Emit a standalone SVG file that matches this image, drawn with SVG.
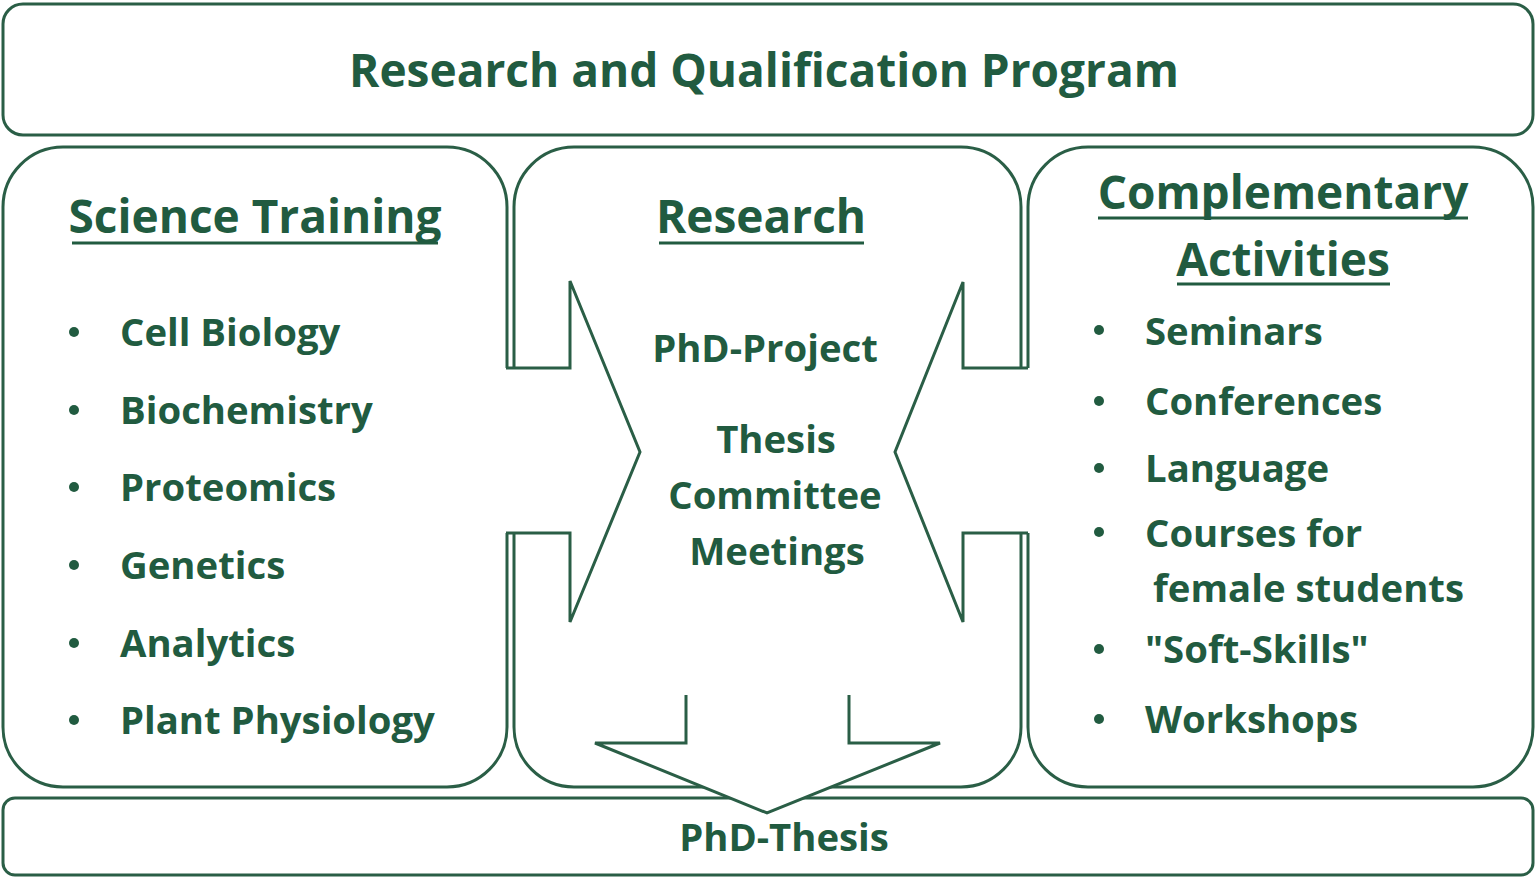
<svg xmlns="http://www.w3.org/2000/svg" width="1536" height="891" viewBox="0 0 1536 891">
<style>
.box{fill:#ffffff;stroke:#2a5e46;stroke-width:3}
.t{font-family:"Open Sans","Liberation Sans",sans-serif;font-weight:bold;fill:#215b40}
.title{font-size:46px;text-anchor:middle}
.head{font-size:46px}
.item{font-size:38.3px}
.mid{text-anchor:middle}
.ul{stroke:#215b40;stroke-width:3}
.dot{fill:#215b40}
.arrowfill{fill:#ffffff;stroke:none}
.arrowline{fill:none;stroke:#2a5e46;stroke-width:3;stroke-linejoin:miter}
</style>
<rect width="1536" height="891" fill="#ffffff"/>
<g id="program">
<rect class="box" x="3" y="4" width="1530" height="131" rx="20"/>
<text class="t title" x="764" y="87">Research and Qualification Program</text>
</g>
<g id="science-training">
<rect class="box" x="3" y="147" width="504" height="640" rx="60"/>
<text class="t head mid" x="255" y="233">Science Training</text>
<line class="ul" x1="72" y1="243" x2="438" y2="243"/>
<circle class="dot" cx="74" cy="332" r="5"/><text class="t item" x="120" y="346">Cell Biology</text>
<circle class="dot" cx="74" cy="410" r="5"/><text class="t item" x="120" y="424">Biochemistry</text>
<circle class="dot" cx="74" cy="487" r="5"/><text class="t item" x="120" y="501">Proteomics</text>
<circle class="dot" cx="74" cy="565" r="5"/><text class="t item" x="120" y="579">Genetics</text>
<circle class="dot" cx="74" cy="643" r="5"/><text class="t item" x="120" y="657">Analytics</text>
<circle class="dot" cx="74" cy="720" r="5"/><text class="t item" x="120" y="734">Plant Physiology</text>
</g>
<g id="research">
<rect class="box" x="514" y="147" width="507" height="640" rx="60"/>
<text class="t head mid" x="761" y="233">Research</text>
<line class="ul" x1="659" y1="243" x2="864" y2="243"/>
</g>
<g id="complementary">
<rect class="box" x="1028" y="147" width="505" height="640" rx="60"/>
<text class="t head mid" x="1283" y="209">Complementary</text>
<line class="ul" x1="1098" y1="218" x2="1468" y2="218"/>
<text class="t head mid" x="1283" y="276">Activities</text>
<line class="ul" x1="1177" y1="284" x2="1390" y2="284"/>
<circle class="dot" cx="1099" cy="330" r="5"/><text class="t item" x="1145" y="345">Seminars</text>
<circle class="dot" cx="1099" cy="401" r="5"/><text class="t item" x="1145" y="415">Conferences</text>
<circle class="dot" cx="1099" cy="468" r="5"/><text class="t item" x="1145" y="482">Language</text>
<circle class="dot" cx="1099" cy="532" r="5"/><text class="t item" x="1145" y="547">Courses for</text>
<text class="t item" x="1153" y="602">female students</text>
<circle class="dot" cx="1099" cy="649" r="5"/><text class="t item" x="1145" y="663">"Soft-Skills"</text>
<circle class="dot" cx="1099" cy="719" r="5"/><text class="t item" x="1145" y="733">Workshops</text>
</g>
<g id="phd-thesis">
<rect class="box" x="3" y="798" width="1530" height="77" rx="12"/>
<text class="t item mid" x="784" y="851">PhD-Thesis</text>
</g>
<g id="connectors">
<polygon class="arrowfill" points="503,368 570,368 570,281 640,452 570,622 570,533 503,533"/>
<polyline class="arrowline" points="506,368 570,368 570,281 640,452 570,622 570,533 506,533"/>
<polygon class="arrowfill" points="1031,368 963,368 963,282 895,452 963,622 963,533 1031,533"/>
<polyline class="arrowline" points="1028,368 963,368 963,282 895,452 963,622 963,533 1028,533"/>
<polygon class="arrowfill" points="686,695 686,743 595,743 767,813 940,743 849,743 849,695"/>
<polyline class="arrowline" points="686,695 686,743 595,743 767,813 940,743 849,743 849,695"/>
</g>
<g id="research-content">
<text class="t item mid" x="765" y="362">PhD-Project</text>
<text class="t item mid" x="776" y="453">Thesis</text>
<text class="t item mid" x="775" y="509">Committee</text>
<text class="t item mid" x="777" y="565">Meetings</text>
</g>
</svg>
